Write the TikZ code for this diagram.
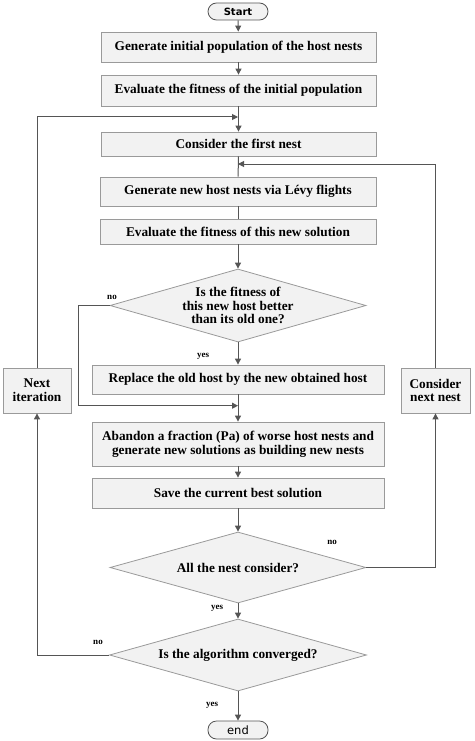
\documentclass[tikz,border=0pt]{standalone}
\usepackage{fontspec}
\setmainfont{Liberation Serif}
\newfontfamily\sansf{DejaVu Sans}
\usetikzlibrary{shapes.geometric,arrows.meta}
\definecolor{boxfill}{HTML}{F2F2F2}
\definecolor{boxline}{HTML}{9A9A9A}
\definecolor{connc}{HTML}{555555}
\begin{document}
\begin{tikzpicture}[x=1pt,y=-1pt]
\tikzset{
 procbox/.style={draw=boxline, fill=boxfill, line width=0.8pt, font=\bfseries\fontsize{13.3}{13.8}\selectfont, align=center, inner sep=0pt},
 decbox/.style={diamond, draw=boxline, fill=boxfill, line width=0.8pt, font=\bfseries\fontsize{13.3}{13.8}\selectfont, align=center, inner sep=0pt, aspect=3.5},
 term/.style={draw=connc, fill=boxfill, rounded corners=8.5pt, minimum width=60pt, minimum height=17pt, inner sep=0pt, line width=0.8pt},
 conn/.style={draw=connc, line width=1pt},
 arr/.style={conn, -{Triangle[length=6pt,width=6pt]}},
 lbl/.style={font=\bfseries\fontsize{9}{10}\selectfont, inner sep=0pt}
}
\useasboundingbox (0,0) rectangle (474,741);
\node[term, font=\sansf\bfseries\fontsize{10}{11}\selectfont] (start) at (238,11.5) {Start};
\node[procbox, minimum width=275pt, minimum height=30pt] (b1) at (238.5,47) {Generate initial population of the host nests};
\node[procbox, minimum width=275pt, minimum height=31pt] (b2) at (238.5,90.5) {Evaluate the fitness of the initial population};
\node[procbox, minimum width=275pt, minimum height=24pt] (b3) at (238.5,144) {Consider the first nest};
\node[procbox, minimum width=276pt, minimum height=29pt] (b4) at (238,191.5) {Generate new host nests via Lévy flights};
\node[procbox, minimum width=276pt, minimum height=25pt] (b5) at (238,231.5) {Evaluate the fitness of this new solution};
\node[decbox, minimum width=256pt, minimum height=73pt] (d1) at (238,305.5) {Is the fitness of\\this new host better\\than its old one?};
\node[procbox, minimum width=292pt, minimum height=29pt] (b6) at (238,379.5) {Replace the old host by the new obtained host};
\node[procbox, minimum width=292pt, minimum height=44pt] (b7) at (238,444) {Abandon a fraction (Pa) of worse host nests and\\generate new solutions as building new nests};
\node[procbox, minimum width=292pt, minimum height=30pt] (b8) at (238,493) {Save the current best solution};
\node[decbox, minimum width=256pt, minimum height=71pt] (d2) at (238,567.5) {All the nest consider?};
\node[decbox, minimum width=257pt, minimum height=72pt] (d3) at (238,655) {Is the algorithm converged?};
\node[term, font=\sansf\fontsize{11.5}{12}\selectfont, minimum height=18pt] (end) at (238,730) {end};
\node[procbox, minimum width=68pt, minimum height=45pt] (nxt) at (37,390.5) {Next\\iteration};
\node[procbox, minimum width=69pt, minimum height=45pt] (cons) at (435.5,390.5) {Consider\\next nest};
\coordinate (m1) at (238,117);
\coordinate (m2) at (238,164);
\coordinate (m3) at (238,405.7);
\coordinate (k1) at (78,305.5);
\draw[arr] (start) -- (b1);
\draw[arr] (b1) -- (b2);
\draw[arr] (b2) -- (b3);
\draw[arr] (nxt.north) |- (m1);
\draw[conn] (b3) -- (b4);
\draw[arr] (cons.north) |- (m2);
\draw[conn] (b4) -- (b5);
\draw[arr] (b5) -- (d1);
\draw[arr] (d1) -- (b6);
\draw[arr] (d1.west) -- (k1) |- (m3);
\draw[arr] (b6) -- (b7);
\draw[arr] (b7) -- (b8);
\draw[arr] (b8) -- (d2);
\draw[arr] (d2) -- (d3);
\draw[arr] (d2.east) -| (cons.south);
\draw[arr] (d3.west) -| (nxt.south);
\draw[arr] (d3) -- (end);
\node[lbl] (l1) at (112,297) {no};
\node[lbl] (l2) at (203,356) {yes};
\node[lbl] (l3) at (332,542) {no};
\node[lbl] (l4) at (217,608) {yes};
\node[lbl] (l5) at (98,642) {no};
\node[lbl] (l6) at (212,705) {yes};
\end{tikzpicture}
\end{document}
